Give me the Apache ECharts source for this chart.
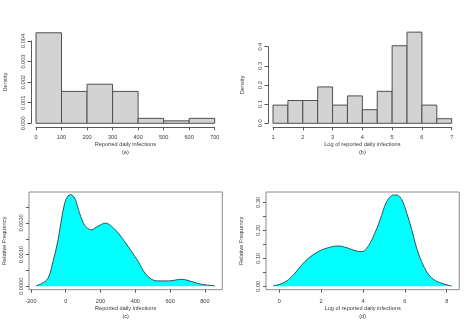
<!DOCTYPE html>
<html>
<head>
<meta charset="utf-8">
<script src="https://cdn.jsdelivr.net/npm/echarts@6/dist/echarts.min.js"></script>
<style>
  html, body { margin: 0; padding: 0; background: #fff; }
  #chart { width: 474px; height: 326px; }
</style>
</head>
<body>
<div id="chart"></div>
<script>
// Histogram (a): reported daily infections, bin edges and densities
const breaksA = [0, 100, 200, 300, 400, 500, 600, 700];
const densityA = [0.00440, 0.00155, 0.00190, 0.00155, 0.00024, 0.00012, 0.00024];

// Histogram (b): log of reported daily infections
const breaksB = [1, 1.5, 2, 2.5, 3, 3.5, 4, 4.5, 5, 5.5, 6, 6.5, 7];
const densityB = [0.095, 0.119, 0.119, 0.190, 0.095, 0.143, 0.071, 0.167, 0.405, 0.476, 0.095, 0.024];

// Kernel density (c): reported daily infections
const kdeCx = [-170, -140, -102, -73, -44, -25, -6, 13, 29, 52, 80, 109, 147, 186, 228, 282, 339, 379, 417, 456, 494, 532, 590, 667, 724, 782, 848, 858];
const kdeCy = [0.00002, 0.00008, 0.00025, 0.00078, 0.00146, 0.00209, 0.00262, 0.00285, 0.00289, 0.00278, 0.00230, 0.00193, 0.00178, 0.00190, 0.00199, 0.00180, 0.00141, 0.00109, 0.00078, 0.00041, 0.00022, 0.00017, 0.00017, 0.00022, 0.00015, 0.00006, 0.00002, 0.00001];

// Kernel density (d): log of reported daily infections
const kdeDx = [-0.29, 0.03, 0.43, 0.75, 1.07, 1.39, 1.86, 2.34, 2.82, 3.30, 3.62, 3.94, 4.18, 4.49, 4.81, 5.13, 5.45, 5.61, 5.85, 6.09, 6.33, 6.56, 6.80, 7.04, 7.36, 7.76, 8.16, 8.24];
const kdeDy = [0.002, 0.007, 0.023, 0.047, 0.076, 0.100, 0.124, 0.138, 0.144, 0.136, 0.127, 0.124, 0.136, 0.177, 0.236, 0.302, 0.326, 0.326, 0.309, 0.261, 0.202, 0.136, 0.088, 0.052, 0.025, 0.011, 0.002, 0.001];

// Tick values for the boxed density panels
const ticksCx = [-200, 0, 200, 400, 600, 800];
const ticksCy = [0, 0.0005, 0.001, 0.0015, 0.002, 0.0025];
const labelsCy = [0, 0.001, 0.002];
const ticksDx = [0, 2, 4, 6, 8];
const ticksDy = [0, 0.05, 0.1, 0.15, 0.2, 0.25, 0.3];
const labelsDy = [0, 0.1, 0.2, 0.3];

const FONT = 'Liberation Sans, Arial, sans-serif';
const TXT = '#3a3a3a';
const AXC = '#5a5a5a';
const FS = 5.6;

function binRows(breaks, dens) {
  return dens.map((d, i) => [breaks[i], breaks[i + 1], d]);
}
function pairs(xs, ys) {
  return xs.map((x, i) => [x, ys[i]]);
}

function histItem(params, api) {
  const p0 = api.coord([api.value(0), 0]);
  const p1 = api.coord([api.value(1), api.value(2)]);
  return {
    type: 'rect',
    shape: { x: p0[0], y: p1[1], width: p1[0] - p0[0], height: p0[1] - p1[1] },
    style: { fill: '#d3d3d3', stroke: '#4f4f4f', lineWidth: 1 }
  };
}

const lblStyle = { color: TXT, fontSize: FS, fontFamily: FONT };
const nameStyle = { color: TXT, fontSize: FS, fontFamily: FONT, lineHeight: 8 };

// Histogram-style axes sit slightly outside the plotting area
function histX(idx, min, max, interval, title) {
  return {
    type: 'value', gridIndex: idx, min: min, max: max, interval: interval,
    position: 'bottom', offset: 3.5,
    axisLine: { show: true, onZero: false, lineStyle: { color: AXC, width: 1 } },
    axisTick: { show: true, length: 3.5, lineStyle: { color: AXC } },
    axisLabel: Object.assign({ margin: 8, showMinLabel: true, showMaxLabel: true, hideOverlap: false }, lblStyle),
    splitLine: { show: false },
    name: title, nameLocation: 'middle', nameGap: 14, nameTextStyle: nameStyle,
    nameMoveOverlap: false
  };
}
function histY(idx, min, max, interval, digits) {
  return {
    type: 'value', gridIndex: idx, min: min, max: max, interval: interval,
    position: 'left', offset: 5,
    axisLine: { show: true, onZero: false, lineStyle: { color: AXC, width: 1 } },
    axisTick: { show: true, length: 3.5, lineStyle: { color: AXC } },
    axisLabel: Object.assign({ margin: 5, rotate: 90, formatter: v => v.toFixed(digits), showMinLabel: true, showMaxLabel: true, hideOverlap: false }, lblStyle),
    splitLine: { show: false },
    name: 'Density', nameLocation: 'middle', nameGap: 22, nameRotate: 90, nameTextStyle: nameStyle,
    nameMoveOverlap: false
  };
}

// Boxed density panels
function boxX(idx, min, max, ticks, title) {
  return {
    type: 'value', gridIndex: idx, min: min, max: max,
    axisLine: { show: false, onZero: false },
    axisTick: { show: true, length: 3, customValues: ticks, lineStyle: { color: AXC } },
    axisLabel: Object.assign({ margin: 9, customValues: ticks, hideOverlap: false }, lblStyle),
    splitLine: { show: false },
    name: title, nameLocation: 'middle', nameGap: 14.5, nameTextStyle: nameStyle,
    nameMoveOverlap: false
  };
}
function boxY(idx, min, max, ticks, labels, digits) {
  return {
    type: 'value', gridIndex: idx, min: min, max: max,
    axisLine: { show: false, onZero: false },
    axisTick: { show: true, length: 3, customValues: ticks, lineStyle: { color: AXC } },
    axisLabel: Object.assign({ margin: 5, rotate: 90, customValues: labels, formatter: v => v.toFixed(digits), hideOverlap: false }, lblStyle),
    splitLine: { show: false },
    name: 'Relative Frequency', nameLocation: 'middle', nameGap: 21, nameRotate: 90, nameTextStyle: nameStyle,
    nameMoveOverlap: false
  };
}

const gridBase = { outerBoundsMode: 'none', containLabel: false };

const option = {
  animation: false,
  backgroundColor: '#ffffff',
  textStyle: { fontFamily: FONT },
  grid: [
    Object.assign({ left: 36, top: 41, width: 178.7, height: 82.3 }, gridBase),
    Object.assign({ left: 273, top: 46.7, width: 178.7, height: 76.6 }, gridBase),
    Object.assign({ left: 29, top: 192, width: 193.3, height: 97.7, show: true, borderColor: '#8a8a8a', borderWidth: 1 }, gridBase),
    Object.assign({ left: 266, top: 192, width: 193.3, height: 97.7, show: true, borderColor: '#8a8a8a', borderWidth: 1 }, gridBase)
  ],
  xAxis: [
    histX(0, 0, 700, 100, 'Reported daily infections\n(a)'),
    histX(1, 1, 7, 1, 'Log of reported daily infections\n(b)'),
    boxX(2, -211, 900, ticksCx, 'Reported daily infections\n(c)'),
    boxX(3, -0.635, 8.6, ticksDx, 'Log of reported daily infections\n(d)')
  ],
  yAxis: [
    histY(0, 0, 0.004, 0.001, 3),
    histY(1, 0, 0.4, 0.1, 1),
    boxY(2, -0.000107, 0.002975, ticksCy, labelsCy, 4),
    boxY(3, -0.0121, 0.3368, ticksDy, labelsDy, 2)
  ],
  series: [
    {
      type: 'custom', xAxisIndex: 0, yAxisIndex: 0, clip: false,
      renderItem: histItem, encode: { x: [0, 1], y: 2 },
      data: binRows(breaksA, densityA)
    },
    {
      type: 'custom', xAxisIndex: 1, yAxisIndex: 1, clip: false,
      renderItem: histItem, encode: { x: [0, 1], y: 2 },
      data: binRows(breaksB, densityB)
    },
    {
      type: 'line', xAxisIndex: 2, yAxisIndex: 2, smooth: 0.35, symbol: 'none',
      lineStyle: { color: '#2b5656', width: 1 },
      areaStyle: { color: '#00ffff', opacity: 1 },
      data: pairs(kdeCx, kdeCy)
    },
    {
      type: 'line', xAxisIndex: 3, yAxisIndex: 3, smooth: 0.35, symbol: 'none',
      lineStyle: { color: '#2b5656', width: 1 },
      areaStyle: { color: '#00ffff', opacity: 1 },
      data: pairs(kdeDx, kdeDy)
    }
  ]
};

const chart = echarts.init(document.getElementById('chart'), null, { renderer: 'canvas' });
chart.setOption(option);
</script>
</body>
</html>
